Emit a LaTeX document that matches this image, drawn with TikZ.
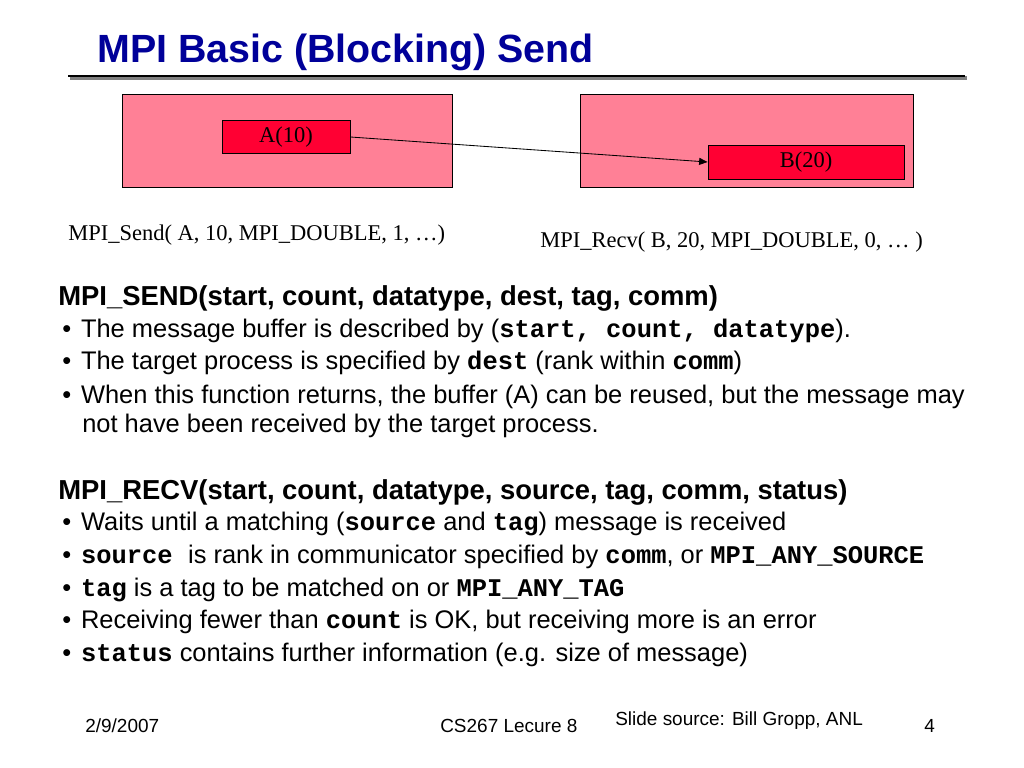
\documentclass[tikz,border=0pt]{standalone}
\usepackage{fontspec}
\setmainfont{Liberation Sans}
\newfontfamily\timesfont{Liberation Serif}
\newfontfamily\codefont{Liberation Mono}
\usetikzlibrary{arrows.meta, positioning}
\definecolor{titleblue}{RGB}{0,0,153}
\definecolor{procpink}{RGB}{255,128,150}
\definecolor{bufred}{RGB}{255,0,51}
\newcommand{\cd}[1]{{\codefont\bfseries #1}}
\begin{document}
\begin{tikzpicture}[x=0.025cm, y=-0.025cm,
    proc/.style = {draw, fill=procpink, line width=0.6pt},
    buf/.style = {draw, fill=bufred, line width=0.6pt, inner sep=0pt,
                  font=\timesfont\fontsize{16}{18}\selectfont},
    call/.style = {anchor=west, inner sep=0pt, font=\timesfont\fontsize{16}{18}\selectfont},
    head/.style = {anchor=west, inner sep=0pt, font=\fontsize{19.5}{22}\selectfont\bfseries},
    item/.style = {anchor=west, inner sep=0pt, font=\fontsize{18.1}{21}\selectfont},
    foot/.style = {anchor=west, inner sep=0pt, font=\fontsize{13.5}{16}\selectfont},
    every path/.style = {-}
                    ]
\useasboundingbox (0,0) rectangle (1024,768);
% title
\node[anchor=west, inner sep=0pt, text=titleblue,
      font=\fontsize{28}{32}\selectfont\bfseries] (title) at (97,52) {MPI Basic (Blocking) Send};
\draw[gray, line width=2.5pt] (70,78) -- (967,78);
\draw[black, line width=2pt] (68,76) -- (965,76);
% processes
\draw[proc] (122,94) rectangle (452,187);
\draw[proc] (580,94) rectangle (913,187);
\node[buf, text width=128*0.025cm, align=center,
      minimum height=0.825cm] (A) at (286,137) {A(10)};
\node[buf, text width=196*0.025cm, align=center,
      minimum height=0.85cm] (B) at (806,162) {B(20)};
\draw[-{Triangle[length=6pt,width=5pt]}, line width=0.6pt] (A.east) -- (B.west);
\node[call] (send) at (68,235) {MPI\_Send( A, 10, MPI\_DOUBLE, 1, …)};
\node[call] (recv) at (540,242) {MPI\_Recv( B, 20, MPI\_DOUBLE, 0, … )};
% send
\node[head] (h1) at (58,298) {MPI\_SEND(start, count, datatype, dest, tag, comm)};
\node[item] (s1) at (62,331) {•\hspace{7pt}The message buffer is described by (\cd{start, count, datatype}).};
\node[item] (s2) at (62,363) {•\hspace{7pt}The target process is specified by \cd{dest} (rank within \cd{comm})};
\node[item] (s3) at (62,397) {•\hspace{7pt}When this function returns, the buffer (A) can be reused, but the message may};
\node[item] (s4) at (82,426) {not have been received by the target process.};
% recv
\node[head] (h2) at (58,492) {MPI\_RECV(start, count, datatype, source, tag, comm, status)};
\node[item] (r1) at (62,524) {•\hspace{7pt}Waits until a matching (\cd{source} and \cd{tag}) message is received};
\node[item] (r2) at (62,557) {•\hspace{7pt}\cd{source}\hspace{6pt} is rank in communicator specified by \cd{comm}, or \cd{MPI\_ANY\_SOURCE}};
\node[item] (r3) at (62,590) {•\hspace{7pt}\cd{tag} is a tag to be matched on or \cd{MPI\_ANY\_TAG}};
\node[item] (r4) at (62,622) {•\hspace{7pt}Receiving fewer than \cd{count} is OK, but receiving more is an error};
\node[item] (r5) at (62,655) {•\hspace{7pt}\cd{status} contains further information (e.g. size of message)};
% footer
\node[foot] (date) at (85,726) {2/9/2007};
\node[foot] (course) at (440,726) {CS267 Lecure 8};
\node[foot] (src) at (615,721) {Slide source: Bill Gropp, ANL};
\node[foot] (page) at (924,726) {4};
\end{tikzpicture}
\end{document}
